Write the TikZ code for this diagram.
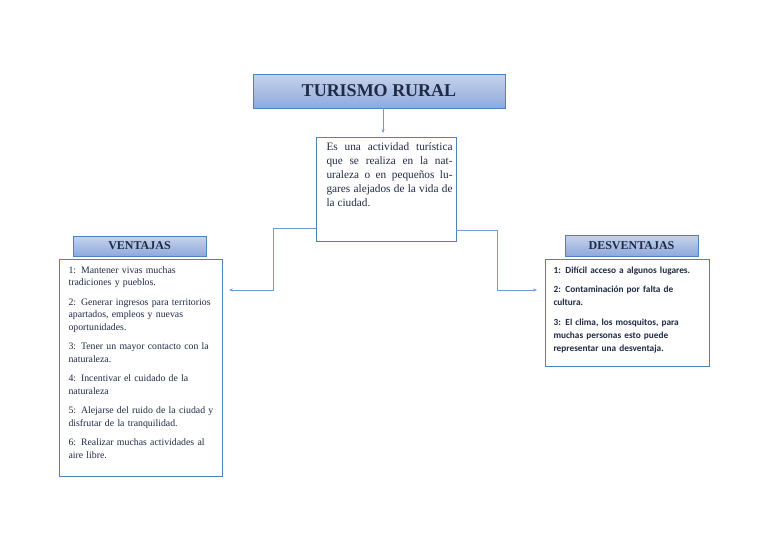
\documentclass[tikz,border=0pt]{standalone}
\usepackage{fontspec}
\setmainfont{Liberation Serif}
\newfontfamily\carl{Carlito}
\usetikzlibrary{arrows.meta}
\definecolor{bord}{HTML}{4F81BD}
\definecolor{hdtop}{HTML}{C6D4EC}
\definecolor{hdbot}{HTML}{8EA9DB}
\definecolor{txt}{HTML}{1F2A44}
\tikzset{
 hdr/.style={draw=bord, top color=hdtop, bottom color=hdbot, font=\bfseries, text=txt, inner sep=0pt},
 box/.style={draw=bord, line width=0.8pt, fill=white, inner sep=0pt},
 conn/.style={draw=bord!80, line width=0.7pt, -{Stealth[length=4pt,width=3pt]}}
}
\begin{document}
\begin{tikzpicture}[x=1pt,y=-1pt]
\useasboundingbox (0,0) rectangle (768,543);
\node[hdr, minimum width=252pt, minimum height=34pt, font=\bfseries\fontsize{18}{20}\selectfont] (title) at (379,91) {TURISMO RURAL};
\node[box, minimum width=140pt, minimum height=104pt] (desc) at (386,189) {};
\node[text width=126pt, align=justify, font=\fontsize{11.3}{14}\selectfont, text=txt, anchor=north west] (desct) at (323,139) {\hyphenpenalty=10000 Es una actividad turística que se realiza en la naturaleza o en pequeños lugares alejados de la vida de la ciudad.};
\draw[conn] (title.south -| desc.north) ++(-3,0) coordinate (t1) -- ++(0,25);
\node[hdr, minimum width=133pt, minimum height=20pt, font=\bfseries\fontsize{12}{13}\selectfont] (ven) at (139.5,246) {VENTAJAS};
\node[hdr, minimum width=133pt, minimum height=21pt, font=\bfseries\fontsize{12}{13}\selectfont] (des) at (631.5,245.5) {DESVENTAJAS};
\node[box, minimum width=163pt, minimum height=217pt] (vbox) at (140.5,367.5) {};
\node[box, minimum width=164pt, minimum height=107pt] (dbox) at (627,312.5) {};
\node[anchor=north west, text width=150pt, align=left, text=txt, font=\fontsize{9.8}{12.5}\selectfont] (vl) at (65,263) {%
1: Mantener vivas muchas\\ tradiciones y pueblos.\par\vspace{7pt}
2: Generar ingresos para territorios\\ apartados, empleos y nuevas\\ oportunidades.\par\vspace{7pt}
3: Tener un mayor contacto con la\\ naturaleza.\par\vspace{7pt}
4: Incentivar el cuidado de la\\ naturaleza\par\vspace{7pt}
5: Alejarse del ruido de la ciudad y\\ disfrutar de la tranquilidad.\par\vspace{7pt}
6: Realizar muchas actividades al\\ aire libre.};
\node[anchor=north west, text width=155pt, align=left, text=txt, font=\carl\bfseries\fontsize{9.3}{12.8}\selectfont] (dl) at (550,263) {%
1: Difícil acceso a algunos lugares.\par\vspace{7pt}
2: Contaminación por falta de\\ cultura.\par\vspace{7pt}
3: El clima, los mosquitos, para\\ muchas personas esto puede\\ representar una desventaja.};
\coordinate (la) at (229,290);
\coordinate (ra) at (537,290);
\draw[conn] (desc.west |- 0,228) -- (273,228) -- (273,290) -- (la);
\draw[conn] (desc.east |- 0,230) -- (497,230) -- (497,290) -- (ra);
\end{tikzpicture}
\end{document}
